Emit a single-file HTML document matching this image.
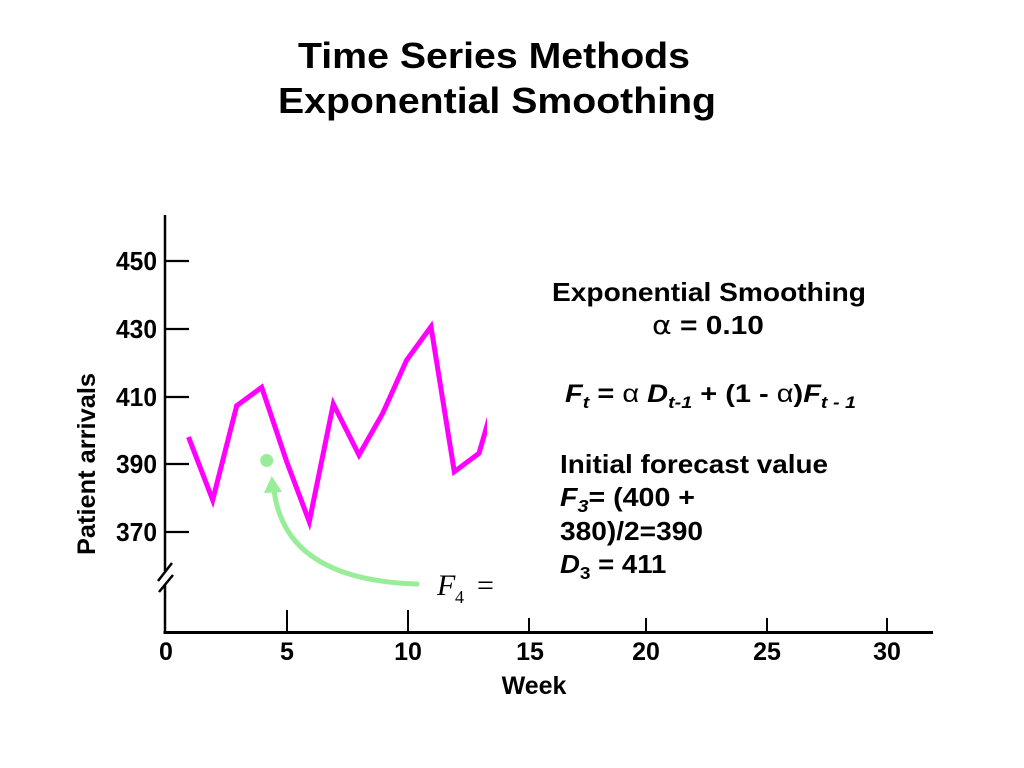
<!DOCTYPE html>
<html>
<head>
<meta charset="utf-8">
<style>
  html, body { margin:0; padding:0; background:#ffffff; }
  body { width:1024px; height:768px; overflow:hidden; }
  svg { display:block; }
  text { font-family: "Liberation Sans", Arial, sans-serif; fill:#000; }
  .b { font-weight:bold; }
  .serif { font-family: "Liberation Serif", "Times New Roman", serif; }
</style>
</head>
<body>
<svg width="1024" height="768" viewBox="0 0 1024 768" xmlns="http://www.w3.org/2000/svg">
  <rect x="0" y="0" width="1024" height="768" fill="#ffffff"/>

  <!-- Title -->
  <text class="b" x="494" y="68" font-size="36" text-anchor="middle" textLength="392" lengthAdjust="spacingAndGlyphs">Time Series Methods</text>
  <text class="b" x="497" y="113" font-size="36" text-anchor="middle" textLength="438" lengthAdjust="spacingAndGlyphs">Exponential Smoothing</text>

  <!-- Y axis with break -->
  <line x1="165" y1="215" x2="165" y2="571" stroke="#000" stroke-width="2.5"/>
  <line x1="165" y1="584" x2="165" y2="633" stroke="#000" stroke-width="2.5"/>
  <line x1="158" y1="581" x2="172" y2="563" stroke="#000" stroke-width="2.5"/>
  <line x1="159" y1="592" x2="173" y2="575" stroke="#000" stroke-width="2.5"/>

  <!-- Y ticks -->
  <g stroke="#000" stroke-width="2.2">
    <line x1="165" y1="261" x2="189" y2="261"/>
    <line x1="165" y1="329" x2="189" y2="329"/>
    <line x1="165" y1="397" x2="189" y2="397"/>
    <line x1="165" y1="464" x2="189" y2="464"/>
    <line x1="165" y1="532" x2="189" y2="532"/>
  </g>
  <g font-size="26" text-anchor="end">
    <text class="b" x="157" y="270" textLength="41" lengthAdjust="spacingAndGlyphs">450</text>
    <text class="b" x="157" y="338" textLength="41" lengthAdjust="spacingAndGlyphs">430</text>
    <text class="b" x="157" y="406" textLength="41" lengthAdjust="spacingAndGlyphs">410</text>
    <text class="b" x="157" y="473" textLength="41" lengthAdjust="spacingAndGlyphs">390</text>
    <text class="b" x="157" y="541" textLength="41" lengthAdjust="spacingAndGlyphs">370</text>
  </g>

  <!-- Y axis label -->
  <text class="b" font-size="25" text-anchor="middle" transform="translate(95,464) rotate(-90)" textLength="182" lengthAdjust="spacingAndGlyphs">Patient arrivals</text>

  <!-- X axis -->
  <line x1="163.5" y1="632.5" x2="933" y2="632.5" stroke="#000" stroke-width="3"/>
  <g stroke="#000" stroke-width="2">
    <line x1="287" y1="610" x2="287" y2="632"/>
    <line x1="408" y1="610" x2="408" y2="632"/>
    <line x1="529" y1="618" x2="529" y2="632"/>
    <line x1="646" y1="618" x2="646" y2="632"/>
    <line x1="767" y1="618" x2="767" y2="632"/>
    <line x1="887" y1="618" x2="887" y2="632"/>
  </g>
  <g font-size="25" text-anchor="middle">
    <text class="b" x="166" y="660">0</text>
    <text class="b" x="287" y="660">5</text>
    <text class="b" x="408" y="660">10</text>
    <text class="b" x="530" y="660">15</text>
    <text class="b" x="646" y="660">20</text>
    <text class="b" x="767" y="660">25</text>
    <text class="b" x="887" y="660">30</text>
  </g>
  <text class="b" x="534" y="694" font-size="25" text-anchor="middle">Week</text>

  <!-- Data line -->
  <defs>
    <clipPath id="clipL">
      <rect x="0" y="0" width="487" height="768"/>
    </clipPath>
  </defs>
  <polyline clip-path="url(#clipL)" fill="none" stroke="#ff00ff" stroke-width="5" stroke-linejoin="miter" stroke-miterlimit="10"
    points="188.5,437 212.7,500 236.7,405.7 261.7,387.3 286.7,461.7 309.3,521.7 333.3,404 359,455 382.7,413.3 406.7,360 431,326.7 454.3,471.7 479,453.3 503,370"/>

  <!-- Green forecast dot and arrow -->
  <circle cx="266.7" cy="460.5" r="6.5" fill="#98ee98"/>
  <path d="M417,584 Q285,580 274,490" fill="none" stroke="#98ee98" stroke-width="5" stroke-linecap="round"/>
  <polygon points="271.7,476 264,493 282,492" fill="#98ee98"/>

  <!-- F4 = -->
  <text class="serif" x="437" y="595" font-size="30" font-style="italic">F</text>
  <text class="serif" x="455" y="603" font-size="18">4</text>
  <text class="serif" x="477" y="595" font-size="30">=</text>

  <!-- Right text block -->
  <text class="b" x="552" y="301" font-size="26" textLength="314" lengthAdjust="spacingAndGlyphs">Exponential Smoothing</text>

  <text font-size="26" transform="translate(652,334) scale(1.15,1)"><tspan font-family="DejaVu Sans, sans-serif">α</tspan><tspan font-weight="bold"> = 0.10</tspan></text>

  <text font-size="25" transform="translate(565,402) scale(1.16,1)"><tspan font-weight="bold" font-style="italic">F</tspan><tspan font-weight="bold" font-style="italic" font-size="17" dy="6">t</tspan><tspan font-weight="bold" dy="-6"> = </tspan><tspan>α </tspan><tspan font-weight="bold" font-style="italic">D</tspan><tspan font-weight="bold" font-style="italic" font-size="17" dy="6">t-1</tspan><tspan font-weight="bold" dy="-6"> + (1 - </tspan><tspan>α</tspan><tspan font-weight="bold">)</tspan><tspan font-weight="bold" font-style="italic">F</tspan><tspan font-weight="bold" font-style="italic" font-size="17" dy="6">t - 1</tspan></text>

  <text class="b" x="560" y="473" font-size="26" textLength="268" lengthAdjust="spacingAndGlyphs">Initial forecast value</text>

  <text font-size="26" transform="translate(560,506) scale(1.1,1)"><tspan font-weight="bold" font-style="italic">F</tspan><tspan font-weight="bold" font-style="italic" font-size="18" dy="6">3</tspan><tspan font-weight="bold" dy="-6">= (400 +</tspan></text>

  <text class="b" x="560" y="540" font-size="26" textLength="143" lengthAdjust="spacingAndGlyphs">380)/2=390</text>

  <text font-size="26" transform="translate(560,573) scale(1.06,1)"><tspan font-weight="bold" font-style="italic">D</tspan><tspan font-weight="bold" font-size="18" dy="6">3</tspan><tspan font-weight="bold" dy="-6"> = 411</tspan></text>
</svg>
</body>
</html>
